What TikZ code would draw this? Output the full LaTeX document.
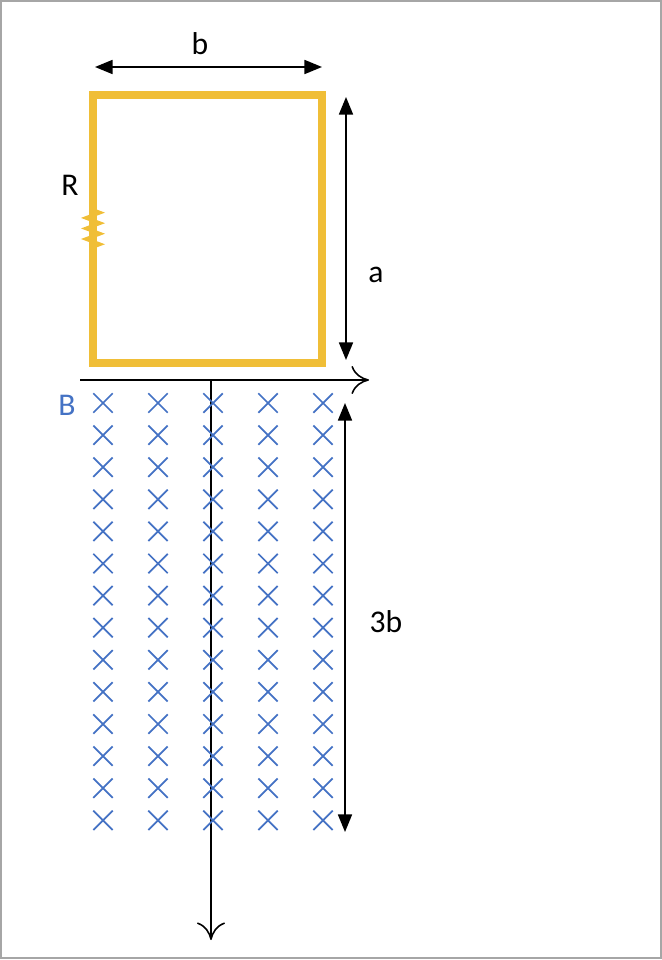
\documentclass[tikz,border=0pt]{standalone}
\usepackage{fontspec}
\setmainfont{Carlito}
\usetikzlibrary{arrows.meta, shapes.misc, decorations.pathmorphing}
\definecolor{wire}{RGB}{240,190,55}
\definecolor{field}{RGB}{68,114,196}
\tikzset{loop/.style={draw=wire,line width=4.5pt},
         dim/.style={{Triangle[width=8pt,length=10pt]}-{Triangle[width=8pt,length=10pt]},line width=0.9pt},
         axis/.style={-{To[length=10pt,width=16pt]},line width=0.9pt},
         xmark/.style={cross out,draw=field,line width=1pt,minimum size=10pt,inner sep=0pt},
         lbl/.style={font=\fontsize{18}{21}\selectfont},
        }
\begin{document}
\begin{tikzpicture}[x=0.02cm,y=-0.02cm]
        \useasboundingbox (0,0) rectangle (662,960);
        \draw[gray!70,line width=0.6pt](1,1)rectangle(661,958);

        % the loop with its resistor
        \coordinate(tl)at(93,95);
        \coordinate(tr)at(322,95);
        \coordinate(br)at(322,363);
        \coordinate(bl)at(93,363);
        \coordinate(rtop)at(93,210);
        \coordinate(rbot)at(93,248);
        \draw[loop,line join=miter](tl)--(tr)--(br)--(bl)--cycle;
        \draw[draw=wire,line width=2pt,decorate,decoration={zigzag,segment length=6pt,amplitude=4pt}](rtop)--(rbot);
        \node[lbl](r)at(70,185){R};

        % dimensions
        \coordinate(bw)at(95,67);
        \coordinate(be)at(322,67);
        \draw[dim](bw)--(be);
        \node[lbl](b)at(200,44){b};
        \coordinate(an)at(346,97);
        \coordinate(as)at(346,360);
        \draw[dim](an)--(as);
        \node[lbl](a)at(376,275){a};
        \coordinate(fn)at(345,403);
        \coordinate(fs)at(345,832);
        \draw[dim](fn)--(fs);
        \node[lbl](tb)at(386,622){3b};

        % axes
        \coordinate(xo)at(80,380);
        \coordinate(xe)at(369,380);
        \draw[axis](xo)--(xe);
        \coordinate(yo)at(211,380);
        \coordinate(ye)at(211,940);
        \draw[axis](yo)--(ye);

        % field
        \node[lbl,text=field](bfield)at(67,405){B};
        \foreach \i in {0,...,13}
          \foreach \x in {103,158,213,268,323}
            \node[xmark](m\x-\i)at(\x,{403+32.1*\i}){};
\end{tikzpicture}
\end{document}
